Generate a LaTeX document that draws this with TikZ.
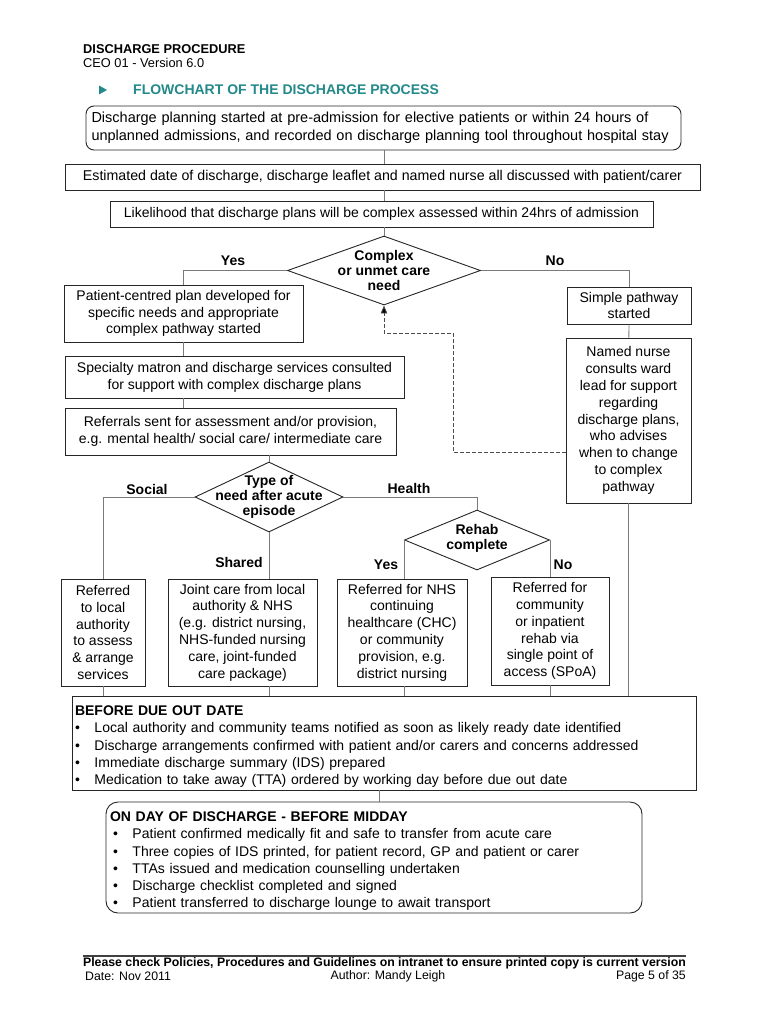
\documentclass[tikz,border=0pt]{standalone}
\usepackage{fontspec}
\setmainfont{Liberation Sans}
\usetikzlibrary{positioning,shapes.geometric,arrows.meta}

\definecolor{flowteal}{HTML}{23898A}
\definecolor{boxline}{HTML}{262626}
\definecolor{linkgray}{HTML}{7A7A7A}

\newcommand{\bodyfont}{\fontsize{14}{16.8}\selectfont}
\newcommand{\listfont}{\fontsize{14}{17.1}\selectfont}
\newcommand{\decfont}{\fontsize{14}{15}\selectfont\bfseries}
\newcommand{\footfont}{\fontsize{12.3}{13}\selectfont}
\newcommand{\bul}[2][0pt]{\hspace*{#1}\makebox[19.5pt][l]{\textbullet}#2}

\begin{document}
\begin{tikzpicture}[x=1pt,y=-1pt]
        \tikzstyle{every node} = [inner sep=0pt]
        \tikzstyle{box} = [draw=boxline,line width=0.9pt,align=center,font=\bodyfont]
        \tikzstyle{rbox} = [box,rounded corners=8pt]
        \tikzstyle{listbox} = [box,align=left,font=\listfont]
        \tikzstyle{decision} = [diamond,draw=boxline,line width=0.9pt]
        \tikzstyle{dtext} = [align=center,font=\decfont]
        \tikzstyle{tag} = [font=\decfont]
        \tikzstyle{link} = [draw=linkgray,line width=0.8pt]
        \tikzstyle{dashlink} = [draw=black!70,line width=0.9pt,dash pattern=on 3.5pt off 2.5pt,-{Triangle[length=8pt,width=6.5pt,fill=black]}]
        \useasboundingbox (0,0) rectangle (768,1024);
        \fill[white] (0,0) rectangle (768,1024);
        % page header
        \node[anchor=west,font=\fontsize{12.8}{14}\selectfont\bfseries] (doc) at (83,49) {DISCHARGE PROCEDURE};
        \node[anchor=west,font=\fontsize{12.8}{14}\selectfont] (ver) at (83,63) {CEO 01 - Version 6.0};
        \fill[flowteal] (99,85.5) -- (107,90) -- (99,94.5) -- cycle;
        \node[anchor=west,text=flowteal,font=\fontsize{14}{16}\selectfont\bfseries] (title) at (133,90) {FLOWCHART OF THE DISCHARGE PROCESS};
        % main column
        \node[rbox,align=left,text width=584pt,minimum width=595pt,minimum height=44pt,font=\fontsize{14.5}{17.5}\selectfont] (plan) at (383.5,128) {Discharge planning started at pre-admission for elective patients or within 24 hours of\\unplanned admissions, and recorded on discharge planning tool throughout hospital stay};
        \node[box,minimum width=635pt,minimum height=26pt,font=\fontsize{14.2}{17}\selectfont] (edd) at (382.5,177) {Estimated date of discharge, discharge leaflet and named nurse all discussed with patient/carer};
        \node[box,minimum width=543pt,minimum height=26pt] (likely) at (381.5,214) {Likelihood that discharge plans will be complex assessed within 24hrs of admission};
        \node[decision,minimum width=193pt,minimum height=69pt,label={[dtext]center:Complex\\or unmet care\\need}] (complex) at (384,270.5) {};
        \node[tag] (yesA) at (233,261) {Yes};
        \node[tag] (noA) at (555,261) {No};
        % complex branch
        \node[box,minimum width=239pt,minimum height=57pt] (pcp) at (183.5,313.5) {Patient-centred plan developed for\\specific needs and appropriate\\complex pathway started};
        \node[box,minimum width=339pt,minimum height=42pt] (matron) at (234.5,377) {Specialty matron and discharge services consulted\\for support with complex discharge plans};
        \node[box,minimum width=331pt,minimum height=47pt] (refer) at (230.5,431.5) {Referrals sent for assessment and/or provision,\\e.g. mental health/ social care/ intermediate care};
        % simple branch
        \node[box,minimum width=124pt,minimum height=37pt] (simple) at (629,305.5) {Simple pathway\\started};
        \node[box,minimum width=125pt,minimum height=165pt] (nurse) at (628.5,420.5) {Named nurse\\consults ward\\lead for support\\regarding\\discharge plans,\\who advises\\when to change\\to complex\\pathway};
        % type of need
        \node[decision,minimum width=148pt,minimum height=70pt,label={[dtext]center:Type of\\need after acute\\episode}] (need) at (269,497) {};
        \node[tag] (social) at (147,489) {Social};
        \node[tag] (health) at (409,488) {Health};
        \node[tag] (shared) at (239,562) {Shared};
        \node[decision,minimum width=145pt,minimum height=60pt,label={[dtext,yshift=2pt]center:Rehab\\complete}] (rehab) at (477,540) {};
        \node[tag] (yesB) at (386,565) {Yes};
        \node[tag] (noB) at (563,565) {No};
        % referral outcomes
        \node[box,minimum width=84pt,minimum height=107pt] (local) at (103,632.5) {Referred\\to local\\authority\\to assess\\\& arrange\\services};
        \node[box,minimum width=149pt,minimum height=107pt] (joint) at (242.5,632.5) {Joint care from local\\authority \& NHS\\(e.g. district nursing,\\NHS-funded nursing\\care, joint-funded\\care package)};
        \node[box,minimum width=130pt,minimum height=107pt] (chc) at (402,632.5) {Referred for NHS\\continuing\\healthcare (CHC)\\or community\\provision, e.g.\\district nursing};
        \node[box,minimum width=118pt,minimum height=108pt] (spoa) at (550,631) {Referred for\\community\\or inpatient\\rehab via\\single point of\\access (SPoA)};
        % before discharge
        \node[listbox,inner xsep=3pt,text width=618pt,minimum height=94pt] (before) at (384,743) {\rule{0pt}{17pt}\textbf{BEFORE DUE OUT DATE}\\
          \bul{Local authority and community teams notified as soon as likely ready date identified}\\
          \bul{Discharge arrangements confirmed with patient and/or carers and concerns addressed}\\
          \bul{Immediate discharge summary (IDS) prepared}\\
          \bul{Medication to take away (TTA) ordered by working day before due out date}};
        \node[listbox,rounded corners=12pt,inner xsep=4pt,text width=528pt,minimum height=111pt] (onday) at (374,857.5) {\rule{0pt}{17pt}\textbf{ON DAY OF DISCHARGE - BEFORE MIDDAY}\\
          \bul[3pt]{Patient confirmed medically fit and safe to transfer from acute care}\\
          \bul[3pt]{Three copies of IDS printed, for patient record, GP and patient or carer}\\
          \bul[3pt]{TTAs issued and medication counselling undertaken}\\
          \bul[3pt]{Discharge checklist completed and signed}\\
          \bul[3pt]{Patient transferred to discharge lounge to await transport}};
        % connectors
        \draw[link] (complex |- plan.south) -- (complex |- edd.north);
        \draw[link] (complex |- edd.south) -- (complex |- likely.north);
        \draw[link] (complex |- likely.south) -- (complex.north);
        \draw[link] (complex.west) -| (pcp.north);
        \draw[link] (complex.east) -| (simple.north);
        \draw[link] (pcp.south) -- (pcp.south |- matron.north);
        \draw[link] (pcp.south |- matron.south) -- (pcp.south |- refer.north);
        \draw[link] (simple) -- (nurse);
        \draw[dashlink] ([yshift=-31.5pt]nurse.west) -| (453,333) -| (complex.south);
        \draw[link] (need |- refer.south) -- (need.north);
        \draw[link] (need.west) -| (local.north);
        \draw[link] (need.east) -| (rehab.north);
        \draw[link] (need.south) -- (need.south |- joint.north);
        \draw[link] (rehab.west) -- (rehab.west |- chc.north);
        \draw[link] (rehab.east) -- (rehab.east |- spoa.north);
        \draw[link] (local.south) -- (local.south |- before.north);
        \draw[link] (need |- joint.south) -- (need |- before.north);
        \draw[link] (rehab.west |- chc.south) -- (rehab.west |- before.north);
        \draw[link] (rehab.east |- spoa.south) -- (rehab.east |- before.north);
        \draw[link] (nurse.south) -- (nurse.south |- before.north);
        \draw[link] ([xshift=5pt]onday.north |- before.south) -- ([xshift=5pt]onday.north);
        % page footer
        \draw[draw=black!75,line width=1.5pt] (83,956) -- (686,956);
        \node[font=\footfont\bfseries] (check) at (384.5,963) {Please check Policies, Procedures and Guidelines on intranet to ensure printed copy is current version};
        \node[anchor=west,font=\footfont] (date) at (85,976) {Date: Nov 2011};
        \node[font=\footfont] (author) at (388,976) {Author: Mandy Leigh};
        \node[anchor=east,font=\footfont] (page) at (686,976) {Page 5 of 35};
\end{tikzpicture}
\end{document}
